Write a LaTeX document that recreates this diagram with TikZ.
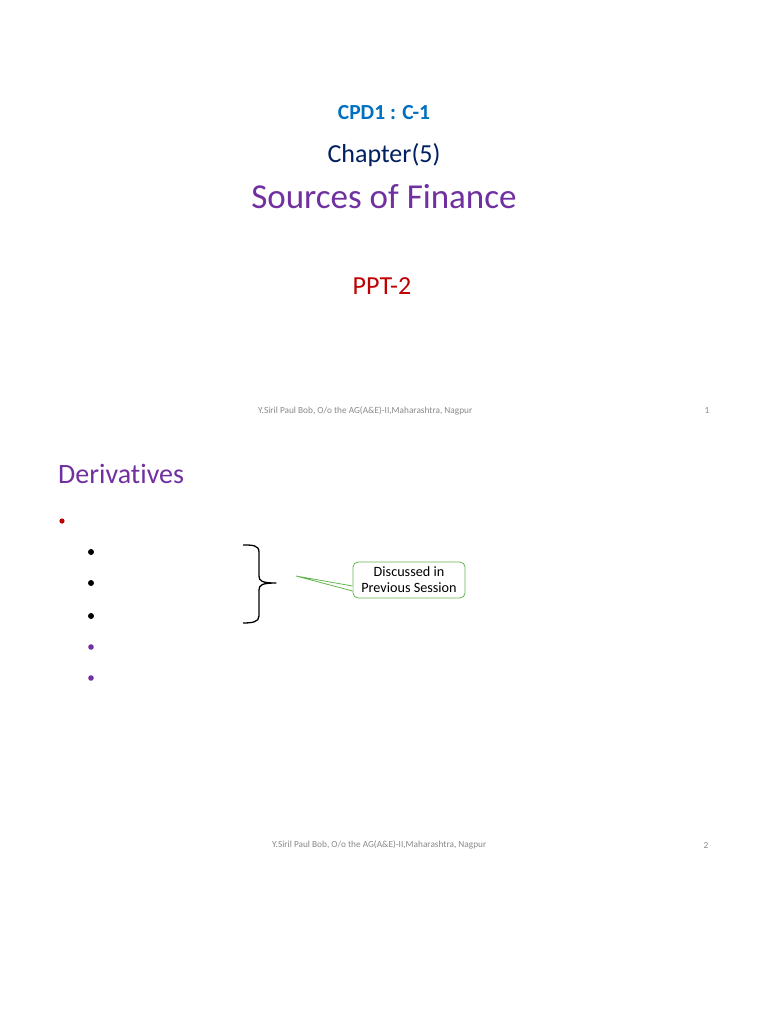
\documentclass[tikz,border=0pt]{standalone}
\usepackage{fontspec}
\setmainfont[Ligatures=NoCommon]{Carlito}
\definecolor{cpdblue}{RGB}{0,112,192}
\definecolor{navy}{RGB}{0,32,96}
\definecolor{purp}{RGB}{112,48,160}
\definecolor{dred}{RGB}{192,0,0}
\definecolor{foot}{RGB}{137,137,137}
\definecolor{callg}{RGB}{100,180,80}
\tikzset{foottext/.style={font=\fontsize{9.3}{11}\selectfont,text=foot,inner sep=0}}
\begin{document}
\begin{tikzpicture}[x=1pt,y=-1pt]
\useasboundingbox[fill=white] (0,0) rectangle (768,1024);
\node[text=cpdblue,font=\fontsize{21.5}{25}\selectfont\bfseries] (cpd) at (384,113) {CPD1 : C-1};
\node[text=navy,font=\fontsize{26}{30}\selectfont] (ch) at (384,155) {Chapter(5)};
\node[text=purp,font=\fontsize{35}{40}\selectfont] (src) at (384,197) {Sources of Finance};
\node[text=dred,font=\fontsize{26}{30}\selectfont] (ppt) at (382,286) {PPT-2};
\node[foottext,anchor=west] (f1) at (258,411) {Y.Siril Paul Bob, O/o the AG(A\&E)-II,Maharashtra, Nagpur};
\node[foottext] (n1) at (707,411) {1};
\node[text=purp,font=\fontsize{28}{32}\selectfont,anchor=west,inner sep=0] (der) at (58,474) {Derivatives};
\fill[dred] (62,521) circle (2.6);
\foreach \y in {552,583,616} \fill[black] (91,\y) circle (3);
\foreach \y in {647,678} \fill[purp] (91,\y) circle (2.8);
\draw[line width=1.3pt,line join=round] (243,545) .. controls (252,545) and (259,545) .. (259,552) -- (259,576) .. controls (259,581) and (262,583) .. (276,583)
  (259,576) .. controls (259,581) and (262,583) .. (276,583) .. controls (262,583) and (259,585) .. (259,590) -- (259,616) .. controls (259,622) and (252,623) .. (243,623);
\node[draw=callg,line width=0.8pt,rounded corners=5pt,minimum width=112,minimum height=36,inner sep=2pt,align=center,font=\fontsize{14.2}{16}\selectfont] (call) at (409,580) {Discussed in\\Previous Session};
\coordinate (tip) at (296,576);
\draw[callg,line width=0.8pt,fill=white] ([yshift=-11]call.west) -- (tip) -- ([yshift=-6]call.west);
\node[foottext,anchor=west] (f2) at (272,845) {Y.Siril Paul Bob, O/o the AG(A\&E)-II,Maharashtra, Nagpur};
\node[foottext] (n2) at (706,845) {2};
\end{tikzpicture}
\end{document}
